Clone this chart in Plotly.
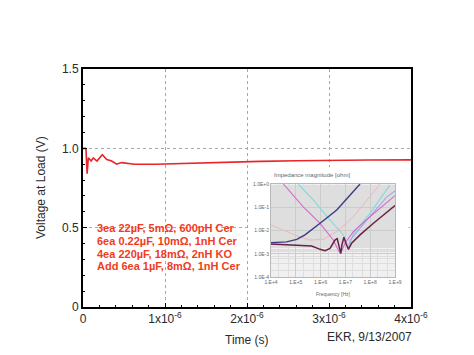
import plotly.graph_objects as go

# ---------------- main data ----------------
time_us = [0, 0.03, 0.037, 0.05, 0.065, 0.1, 0.125, 0.17, 0.235, 0.29, 0.35, 0.41, 0.47, 0.55,
           0.63, 0.88, 1.2, 1.6, 2.16, 2.6, 3.0, 3.5, 4.0]
voltage = [1.0, 1.0, 0.99, 0.84, 0.94, 0.92, 0.94, 0.92, 0.96, 0.93, 0.92, 0.90, 0.91, 0.905,
           0.90, 0.90, 0.905, 0.91, 0.918, 0.922, 0.925, 0.926, 0.927]
time_s = [t * 1e-6 for t in time_us]

x_tick_vals = [0, 1e-6, 2e-6, 3e-6, 4e-6]
x_tick_text = ["0", "1x10<sup>-6</sup>", "2x10<sup>-6</sup>", "3x10<sup>-6</sup>", "4x10<sup>-6</sup>"]
y_tick_vals = [0, 0.5, 1.0, 1.5]
y_tick_text = ["0", "0.5", "1.0", "1.5"]

notes = ["3ea 22\u00b5F, 5m\u03a9, 600pH Cer",
         "6ea 0.22\u00b5F, 10m\u03a9, 1nH Cer",
         "4ea 220\u00b5F, 18m\u03a9, 2nH KO",
         "Add 6ea 1\u00b5F, 8m\u03a9, 1nH Cer"]

# ---------------- inset data (log10 f, log10 |Z|) ----------------
navy_f = [4.0, 4.63, 5.04, 5.37, 5.98, 6.65, 7.59]
navy_z = [-2.52, -2.49, -2.38, -2.19, -1.69, -1.12, 0.0]

salmon_f = [4.0, 4.63, 5.17, 5.57, 6.11, 6.65, 7.32, 8.4]
salmon_z = [-1.76, -2.05, -2.28, -2.41, -2.38, -2.05, -1.41, 0.0]

magenta_f = [4.5, 5.3, 5.98, 6.51, 6.71, 6.81, 6.98, 7.32, 7.99, 8.93, 9.0]
magenta_z = [0.0, -0.98, -1.69, -2.41, -2.84, -3.0, -2.55, -2.05, -1.41, -0.55, -0.5]

cyan_f = [5.1, 5.71, 6.38, 6.92, 7.05, 7.12, 7.32, 7.99, 8.8]
cyan_z = [0.0, -0.69, -1.55, -2.19, -2.55, -2.8, -2.12, -1.26, -0.04]

blue_f = [7.12, 7.19, 7.86, 8.67, 9.0]
blue_z = [-2.8, -2.41, -1.55, -0.55, -0.3]

maroon_f = [4.0, 4.63, 5.17, 5.64, 5.98, 6.18, 6.38, 6.58, 6.67, 6.75, 6.81, 6.86, 6.94,
            7.02, 7.12, 7.25, 7.59, 8.13, 8.93, 9.0]
maroon_z = [-2.58, -2.61, -2.64, -2.67, -2.81, -2.87, -2.77, -2.41, -2.35, -2.70, -2.98,
            -2.62, -2.29, -2.55, -2.81, -2.55, -2.19, -1.69, -0.98, -0.93]

inset_x_vals = [1e4, 1e5, 1e6, 1e7, 1e8, 1e9]
inset_x_text = ["1.E+4", "1.E+5", "1.E+6", "1.E+7", "1.E+8", "1.E+9"]
inset_y_vals = [1e-4, 1e-3, 1e-2, 1e-1, 1e0]
inset_y_text = ["1.0E-4", "1.0E-3", "1.0E-2", "1.0E-1", "1.0E+0"]

FONT = "Liberation Sans, Arial, sans-serif"
OFF = 8                       # page body margin of the html file
W, H = 474 - 2 * OFF, 355 - 2 * OFF
L, R, T, B = 83, 411, 69, 307  # plot area in reference pixels


def px(x):
    return (x - L) / (R - L)


def py(y):
    return (B - y) / (B - T)


fig = go.Figure()

fig.add_trace(go.Scatter(x=time_s, y=voltage, mode="lines",
                         line=dict(color="#e8262a", width=1.6),
                         xaxis="x", yaxis="y", showlegend=False, hoverinfo="skip"))

inset_series = [
    (salmon_f, salmon_z, "#e9b9b6", 1.0),
    (cyan_f, cyan_z, "#86d9d9", 1.1),
    (blue_f, blue_z, "#a6a6ea", 1.1),
    (magenta_f, magenta_z, "#d46ad0", 1.1),
    (navy_f, navy_z, "#3a3a82", 1.4),
    (maroon_f, maroon_z, "#6a2048", 1.5),
]
for fx, zz, col, w in inset_series:
    fig.add_trace(go.Scatter(x=[10 ** v for v in fx], y=[10 ** v for v in zz], mode="lines",
                             line=dict(color=col, width=w), xaxis="x2", yaxis="y2",
                             showlegend=False, hoverinfo="skip"))

main_axis = dict(showline=True, linecolor="black", linewidth=2, mirror=True,
                 ticks="inside", ticklen=4, tickcolor="black", tickwidth=1,
                 showgrid=True, gridcolor="#a8a8a8", griddash="dot", gridwidth=1,
                 zeroline=False, automargin=False,
                 tickfont=dict(family=FONT, size=12, color="#2a2a2a"))

fig.update_layout(
    width=W, height=H,
    margin=dict(l=L - OFF, r=W - (R - OFF), t=T - OFF, b=H - (B - OFF)),
    paper_bgcolor="white", plot_bgcolor="#f0f0f0",
    font=dict(family=FONT, color="#2a2a2a"),
    xaxis=dict(main_axis, range=[0, 4e-6], tickvals=x_tick_vals, ticktext=x_tick_text,
               minor=dict(dtick=0.2e-6, ticks="inside", ticklen=2, tickcolor="black", showgrid=False)),
    yaxis=dict(main_axis, range=[0, 1.5], tickvals=y_tick_vals, ticktext=y_tick_text,
               minor=dict(dtick=0.1, ticks="inside", ticklen=2, tickcolor="black", showgrid=False)),
    xaxis2=dict(type="log", range=[4, 9], domain=[px(271), px(395)], anchor="y2",
                tickvals=inset_x_vals, ticktext=inset_x_text, automargin=False,
                showline=True, linecolor="#b8b8b8", linewidth=1, mirror=True,
                showgrid=True, gridcolor="#cccccc", gridwidth=0.6,
                minor=dict(showgrid=True, gridcolor="#dedede", gridwidth=0.5),
                ticks="", tickfont=dict(family=FONT, size=5, color="#666")),
    yaxis2=dict(type="log", range=[-4, 0], domain=[py(277), py(184)], anchor="x2",
                tickvals=inset_y_vals, ticktext=inset_y_text, automargin=False,
                showline=True, linecolor="#b8b8b8", linewidth=1, mirror=True,
                showgrid=True, gridcolor="#cccccc", gridwidth=0.6,
                minor=dict(showgrid=True, gridcolor="#dedede", gridwidth=0.5),
                ticks="", tickfont=dict(family=FONT, size=5, color="#666")),
)

# white page behind the main plot area (inset uses the grey plot background)
fig.add_shape(type="rect", xref="paper", yref="paper", x0=0, x1=1, y0=0, y1=1,
              fillcolor="white", line=dict(width=0), layer="below")
# white card of the pasted inset picture
fig.add_shape(type="rect", xref="x", yref="y", x0=2.04e-6, x1=3.97e-6, y0=0.04, y1=0.88,
              fillcolor="white", line=dict(width=0), layer="between")

for i, txt in enumerate(notes):
    fig.add_annotation(x=px(95), y=py(228 + i * 12.8), xref="paper", yref="paper",
                       text=txt, showarrow=False, xanchor="left", yanchor="middle",
                       font=dict(family=FONT, size=11, color="#f03c1c", weight="bold"))

fig.add_annotation(x=px(272), y=py(175), xref="paper", yref="paper", text="Impedance magnitude [ohm]",
                   showarrow=False, xanchor="left", yanchor="middle",
                   font=dict(family=FONT, size=6, color="#666"))
fig.add_annotation(x=px(333), y=py(294), xref="paper", yref="paper", text="Frequency [Hz]",
                   showarrow=False, xanchor="center", yanchor="middle",
                   font=dict(family=FONT, size=5, color="#666"))

fig.add_annotation(x=px(247), y=py(340), xref="paper", yref="paper", text="Time (s)",
                   showarrow=False, xanchor="center", yanchor="middle",
                   font=dict(family=FONT, size=12, color="#2a2a2a"))
fig.add_annotation(x=px(41), y=py(188), xref="paper", yref="paper", text="Voltage at Load (V)",
                   showarrow=False, xanchor="center", yanchor="middle", textangle=-90,
                   font=dict(family=FONT, size=12, color="#2a2a2a"))
fig.add_annotation(x=px(369), y=py(337), xref="paper", yref="paper", text="EKR, 9/13/2007",
                   showarrow=False, xanchor="center", yanchor="middle",
                   font=dict(family=FONT, size=12, color="#2a2a2a"))

fig.write_html("out.html")
